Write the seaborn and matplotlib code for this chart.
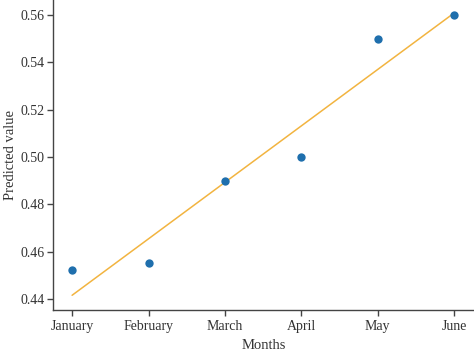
import matplotlib
matplotlib.use("Agg")
import matplotlib.pyplot as plt
import seaborn as sns
import numpy as np
import pandas as pd

months = ["January", "February", "March", "April", "May", "June"]
predicted = [0.452, 0.455, 0.490, 0.500, 0.550, 0.560]
yticks = [0.44, 0.46, 0.48, 0.50, 0.52, 0.54, 0.56]

sns.set_style("ticks")
plt.rcParams['font.family'] = ['Liberation Serif', 'DejaVu Serif']

df = pd.DataFrame({"idx": np.arange(len(months)), "value": predicted})

fig = plt.figure(figsize=(4.74, 3.52), dpi=100)
ax = fig.add_axes([53/474, 42/352, 1 - 53/474, 1 - 42/352])

sns.regplot(data=df, x="idx", y="value", ci=None, ax=ax,
            scatter_kws=dict(s=36, color="#1f6fad", alpha=1, zorder=3, linewidths=0),
            line_kws=dict(color="#f2b440", lw=1.1, zorder=2))

ax.set_xlim(-0.25, 5.26)
ax.set_ylim(0.4353, 0.5663)
ax.set_xticks(np.arange(len(months)))
ax.set_xticklabels(months)
ax.set_yticks(yticks)
ax.set_yticklabels([f"{t:.2f}" for t in yticks])
ax.set_xlabel("Months", fontsize=10.5, color="#333333", labelpad=4)
ax.set_ylabel("Predicted value", fontsize=10.5, color="#333333")
ax.yaxis.set_label_coords(-0.086, 0.5)

for s in ["top", "right"]:
    ax.spines[s].set_visible(False)
for s in ["left", "bottom"]:
    ax.spines[s].set_color("#444444")
    ax.spines[s].set_linewidth(1.0)
ax.tick_params(axis="both", direction="out", length=4, width=1, color="#444444",
               labelsize=10, labelcolor="#333333")
ax.tick_params(axis="y", pad=2)

fig.savefig("out.png", dpi=100)
